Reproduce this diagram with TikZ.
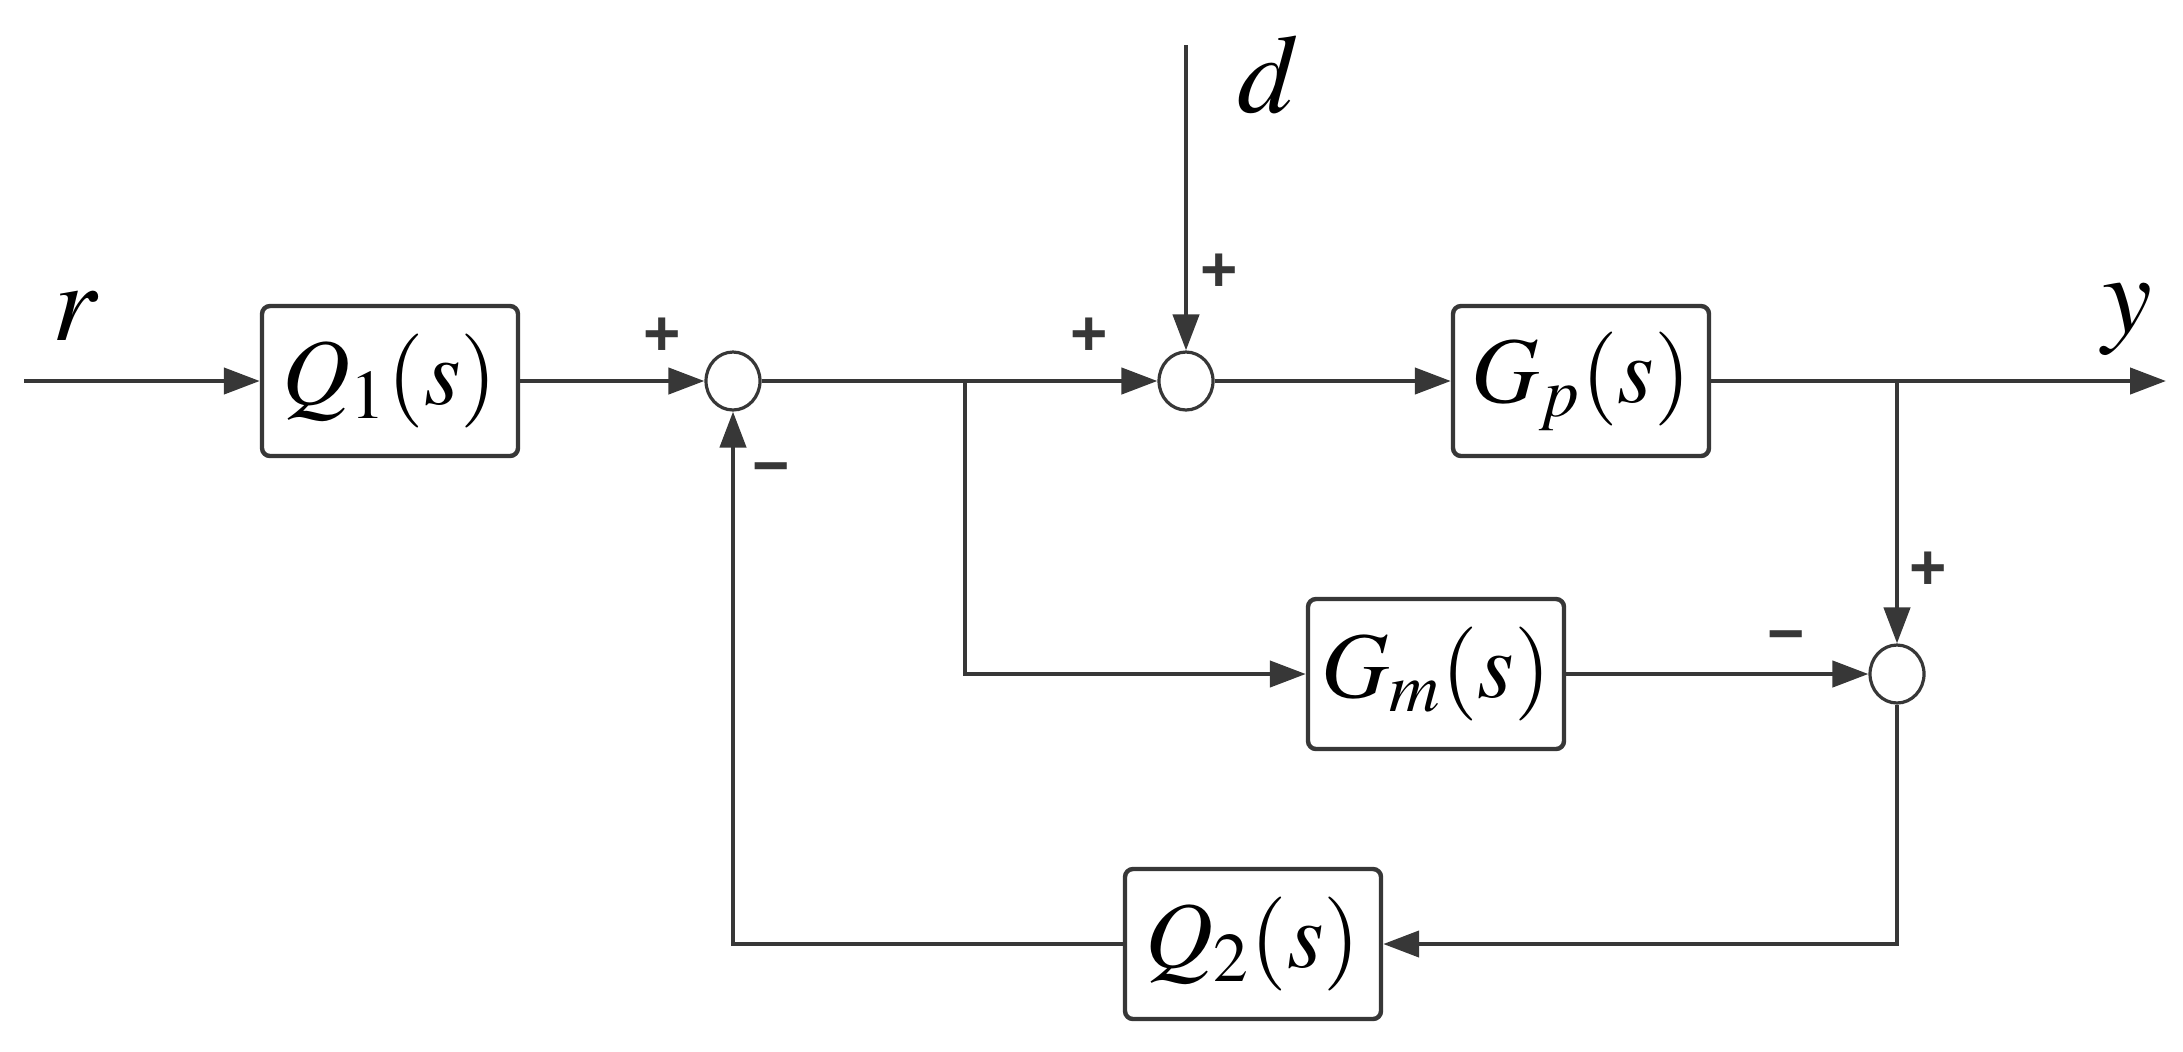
\documentclass[tikz,border=0pt]{standalone}
\usepackage{mathptmx}
\usepackage[no-math]{fontspec}
\newfontfamily\signfont{Liberation Sans}
\usetikzlibrary{arrows.meta,shapes.geometric}
\definecolor{linegray}{RGB}{55,55,55}
\tikzset{every picture/.style={line width=1pt}}

\begin{document}
\begin{tikzpicture}[x=0.25pt,y=0.25pt,yscale=-1,xscale=1,
  blk/.style={draw=linegray,line width=1.1pt,rounded corners=2pt,minimum width=64pt,minimum height=37.5pt,inner sep=0pt,font=\fontsize{23.5}{26}\selectfont},
  sumpt/.style={ellipse,draw=linegray,line width=0.8pt,minimum width=13.5pt,minimum height=14.5pt,inner sep=0pt},
  sig/.style={draw=linegray,line width=1.1pt,-{Triangle[length=9pt,width=6.5pt]}},
  sgn/.style={font=\fontsize{16}{17}\signfont\bfseries\selectfont,text=linegray,inner sep=0pt},
  lbl/.style={font=\fontsize{28}{30}\selectfont,inner sep=0pt}]
\useasboundingbox (0,0) rectangle (2183,1051);

%Blocks
\node [blk] (q1) at (390,381) {$Q_1(s)$};
\node [blk] (gp) at (1581,381) {$G_p(s)$};
\node [blk] (gm) at (1436,674) {$G_m(s)$};
\node [blk] (q2) at (1253,944) {$Q_2(s)$};
%Shape: Circle
\node [sumpt] (s1) at (733,381) {};
\node [sumpt] (s2) at (1186,381) {};
\node [sumpt] (s3) at (1897,674) {};

%Free ends and branch points
\coordinate (rin) at (24,381);
\coordinate (din) at (1186,45);
\coordinate (yout) at (2166,381);
\coordinate (b1) at (965,381);
\coordinate (b2) at (1897,381);

%Straight Lines
\draw [sig] (rin) -- (q1);
\draw [sig] (q1) -- (s1);
\draw [sig] (s1) -- (s2);
\draw [sig] (din) -- (s2);
\draw [sig] (s2) -- (gp);
\draw [sig] (gp) -- (yout);
\draw [sig] (b1) |- (gm);
\draw [sig] (gm) -- (s3);
\draw [sig] (b2) -- (s3);
\draw [sig] (s3) |- (q2);
\draw [sig] (q2) -| (s1);

% Text Node
\node [lbl] (rlbl) at (76,316) {$r$};
\node [lbl] (dlbl) at (1268,75) {$d$};
\node [lbl] (ylbl) at (2127,320) {$y$};
% Text Node
\node [sgn] (p1) at (662,337) {+};
\node [sgn] (m1) at (771,475) {−};
\node [sgn] (p2) at (1089,337) {+};
\node [sgn] (p3) at (1219,273) {+};
\node [sgn] (p4) at (1928,571) {+};
\node [sgn] (m2) at (1786,643) {−};

\end{tikzpicture}
\end{document}
